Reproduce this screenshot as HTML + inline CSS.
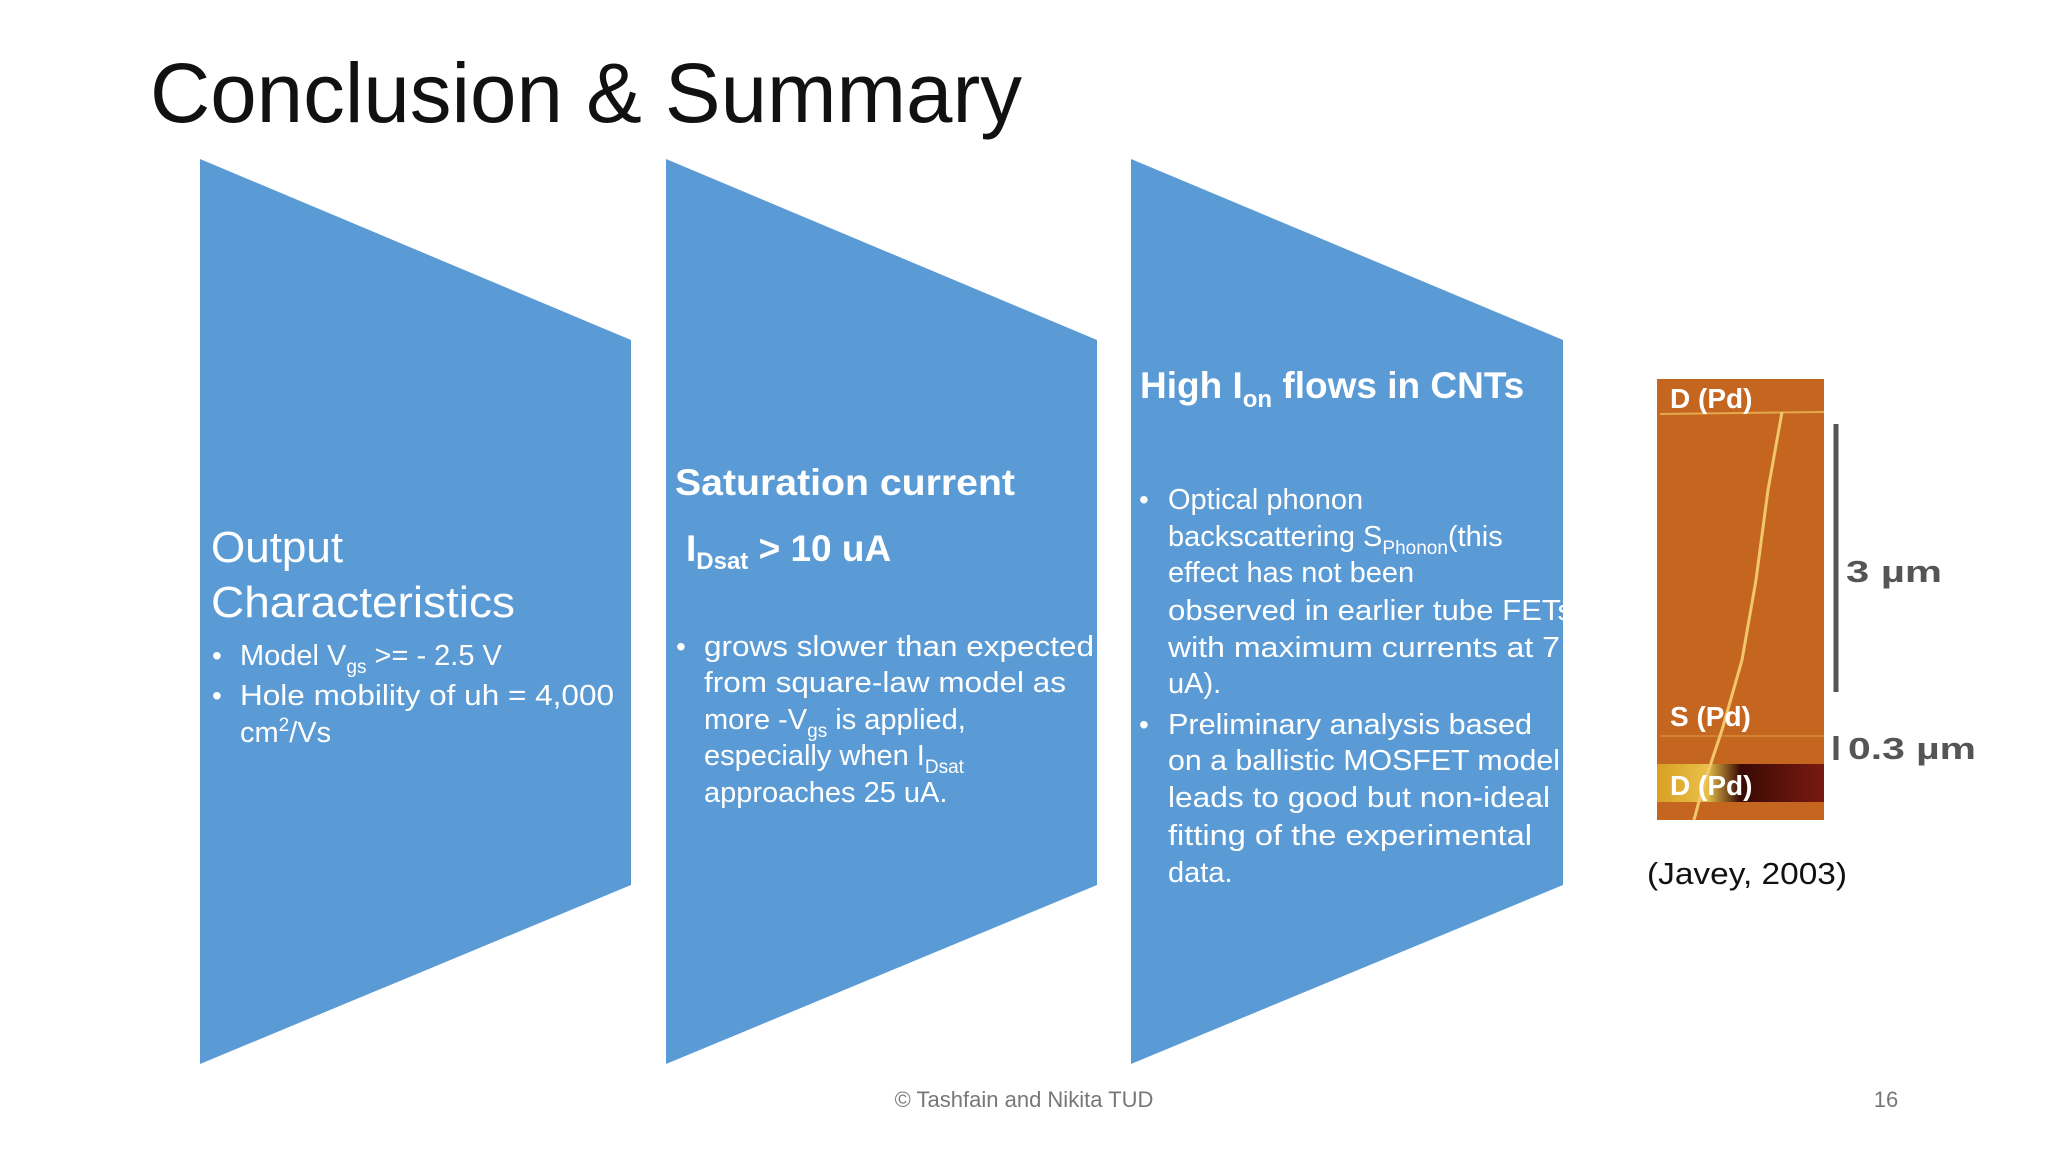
<!DOCTYPE html>
<html><head><meta charset="utf-8"><style>
html,body{margin:0;padding:0;background:#fff;}
svg{display:block;}
text{font-family:"Liberation Sans",sans-serif;}
</style></head><body>
<svg width="2048" height="1152" viewBox="0 0 2048 1152" xmlns="http://www.w3.org/2000/svg">
<defs>
<clipPath id="c3"><polygon points="1131,159 1563,340 1563,885 1131,1064"/></clipPath>
<linearGradient id="strip" x1="0" x2="1" y1="0" y2="0">
<stop offset="0" stop-color="#d8a021"/><stop offset="0.3" stop-color="#e8c04a"/><stop offset="0.5" stop-color="#3a0a05"/><stop offset="1" stop-color="#7a1a10"/></linearGradient>
</defs>
<rect width="2048" height="1152" fill="#fff"/>
<text x="150" y="122" font-size="84" fill="#111" textLength="872" lengthAdjust="spacingAndGlyphs">Conclusion &amp; Summary</text>

<polygon points="200,159 631,340 631,885 200,1064" fill="#5B9BD5"/>
<polygon points="666,159 1097,340 1097,885 666,1064" fill="#5B9BD5"/>
<polygon points="1131,159 1563,340 1563,885 1131,1064" fill="#5B9BD5"/>

<g fill="#fff">
<text x="211" y="562" font-size="44">Output</text>
<text x="211" y="617" font-size="44" textLength="304" lengthAdjust="spacingAndGlyphs">Characteristics</text>
<text x="212" y="665" font-size="28">•</text>
<text x="240" y="665" font-size="29">Model V<tspan font-size="19" dy="8">gs</tspan><tspan dy="-8"> &gt;= - 2.5 V</tspan></text>
<text x="212" y="705" font-size="28">•</text>
<text x="240" y="705" font-size="29" textLength="374" lengthAdjust="spacingAndGlyphs">Hole mobility of uh = 4,000</text>
<text x="240" y="742" font-size="29">cm<tspan font-size="19" dy="-11">2</tspan><tspan dy="11">/Vs</tspan></text>

<text x="675" y="495" font-size="37" font-weight="bold" textLength="340" lengthAdjust="spacingAndGlyphs">Saturation current</text>
<text x="686" y="561" font-size="37" font-weight="bold">I<tspan font-size="24" dy="8">Dsat</tspan><tspan dy="-8"> &gt; 10 uA</tspan></text>
<text x="676" y="656" font-size="28">•</text>
<text x="704" y="656" font-size="29" textLength="390" lengthAdjust="spacingAndGlyphs">grows slower than expected</text>
<text x="704" y="692" font-size="29" textLength="362" lengthAdjust="spacingAndGlyphs">from square-law model as</text>
<text x="704" y="729" font-size="29">more -V<tspan font-size="19" dy="8">gs</tspan><tspan dy="-8"> is applied,</tspan></text>
<text x="704" y="765" font-size="29">especially when I<tspan font-size="19" dy="8">Dsat</tspan></text>
<text x="704" y="802" font-size="29">approaches 25 uA.</text>

<g clip-path="url(#c3)">
<text x="1140" y="398" font-size="37" font-weight="bold" >High I<tspan font-size="24" dy="9">on</tspan><tspan dy="-9"> flows in CNTs</tspan></text>
<text x="1139" y="509" font-size="28">•</text>
<text x="1168" y="509" font-size="29">Optical phonon</text>
<text x="1168" y="546" font-size="29">backscattering S<tspan font-size="19" dy="8">Phonon</tspan><tspan dy="-8">(this</tspan></text>
<text x="1168" y="582" font-size="29">effect has not been</text>
<text x="1168" y="620" font-size="29" textLength="405" lengthAdjust="spacingAndGlyphs">observed in earlier tube FETs</text>
<text x="1168" y="657" font-size="29" textLength="392" lengthAdjust="spacingAndGlyphs">with maximum currents at 7</text>
<text x="1168" y="693" font-size="29">uA).</text>
<text x="1139" y="734" font-size="28">•</text>
<text x="1168" y="734" font-size="29" textLength="364" lengthAdjust="spacingAndGlyphs">Preliminary analysis based</text>
<text x="1168" y="770" font-size="29" textLength="392" lengthAdjust="spacingAndGlyphs">on a ballistic MOSFET model</text>
<text x="1168" y="807" font-size="29" textLength="382" lengthAdjust="spacingAndGlyphs">leads to good but non-ideal</text>
<text x="1168" y="845" font-size="29" textLength="364" lengthAdjust="spacingAndGlyphs">fitting of the experimental</text>
<text x="1168" y="882" font-size="29">data.</text>
</g>
</g>

<!-- AFM image -->
<rect x="1657" y="379" width="167" height="441" fill="#c4661f"/>
<rect x="1657" y="764" width="167" height="38" fill="url(#strip)"/>
<line x1="1660" y1="414" x2="1824" y2="412" stroke="#e6a84a" stroke-width="2"/>
<line x1="1660" y1="736" x2="1824" y2="736" stroke="#d88a3a" stroke-width="1.5"/>
<polyline points="1782,412 1768,490 1756,580 1742,660 1722,730 1702,790 1694,820" fill="none" stroke="#f2c76a" stroke-width="3"/>
<text x="1670" y="408" font-size="28" font-weight="bold" fill="#fff">D (Pd)</text>
<text x="1670" y="726" font-size="28" font-weight="bold" fill="#fff">S (Pd)</text>
<text x="1670" y="795" font-size="28" font-weight="bold" fill="#fff">D (Pd)</text>
<line x1="1836" y1="424" x2="1836" y2="692" stroke="#555" stroke-width="5"/>
<text x="1846" y="582" font-size="31" font-weight="bold" fill="#555" textLength="96" lengthAdjust="spacingAndGlyphs">3 µm</text>
<line x1="1836" y1="736" x2="1836" y2="760" stroke="#555" stroke-width="5"/>
<text x="1848" y="759" font-size="31" font-weight="bold" fill="#555" textLength="128" lengthAdjust="spacingAndGlyphs">0.3 µm</text>
<text x="1647" y="884" font-size="31" fill="#111" textLength="200" lengthAdjust="spacingAndGlyphs">(Javey, 2003)</text>

<text x="1024" y="1107" font-size="22" fill="#777" text-anchor="middle">© Tashfain and Nikita TUD</text>
<text x="1886" y="1107" font-size="22" fill="#777" text-anchor="middle">16</text>
</svg>
</body></html>
